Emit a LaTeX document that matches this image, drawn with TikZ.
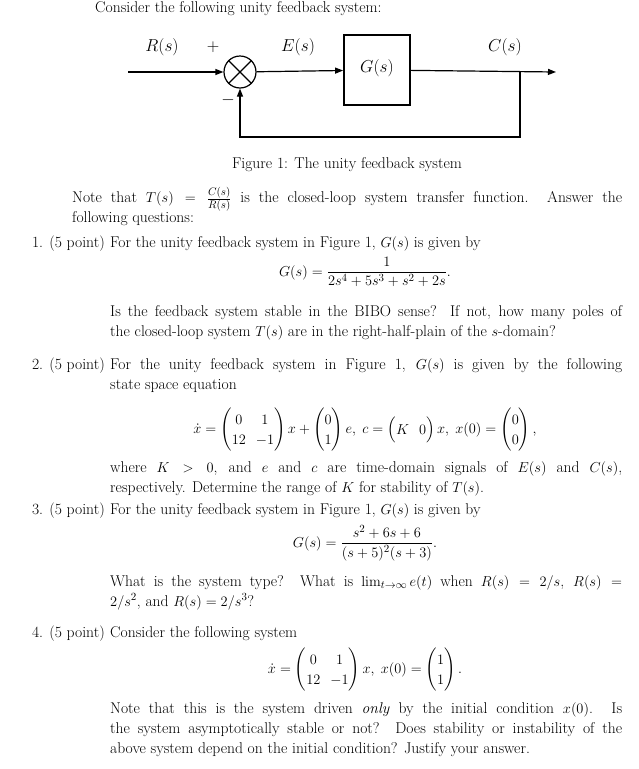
\documentclass[tikz,border=0pt]{standalone}
\usepackage{amsmath}
\usetikzlibrary{arrows.meta}
\begin{document}
\begin{tikzpicture}[x=1pt,y=-1pt,
  txt/.style={anchor=north west,inner sep=0pt,align=justify,font=\fontsize{15.6}{20}\selectfont},
  eq/.style={inner sep=0pt,font=\fontsize{15.6}{20}\selectfont},
  lbl/.style={inner sep=0pt,font=\fontsize{19}{22}\selectfont},
  sig/.style={line width=1.2pt},
  arr/.style={sig,-{Triangle[length=8pt,width=6pt]}}]
\useasboundingbox (0,0) rectangle (638,769);
% diagram
\node[txt] (t0) at (95,1) {Consider the following unity feedback system:};
\node[draw,circle,line width=1.2pt,minimum size=32pt,inner sep=0pt] (sum) at (240,72) {};
\draw[line width=1.2pt] (sum.north west)--(sum.south east) (sum.north east)--(sum.south west);
\node[draw,line width=1.8pt,minimum width=66pt,minimum height=70pt] (G) at (377,70) {};
\node[lbl] (Gl) at (377,68) {$G(s)$};
\coordinate (in) at (128,72);
\coordinate (out) at (556,72);
\coordinate (br) at (520,72);
\coordinate (fb) at (520,137);
\coordinate (fb2) at (240,137);
\draw[arr] (in) -- (sum);
\draw[arr] (sum) -- (G);
\draw[arr] (G) -- (out);
\draw[arr] (br) -- (fb) -- (fb2) -- (sum);
\node[lbl] (R) at (162,47) {$R(s)$};
\node[lbl] (pl) at (213,47) {$+$};
\node[lbl] (mi) at (228,100) {$-$};
\node[lbl] (E) at (298,47) {$E(s)$};
\node[lbl] (C) at (505,47) {$C(s)$};
\node[txt,anchor=north] (cap) at (347,157) {Figure 1: The unity feedback system};
% text
\node[txt,text width=550pt] (p0) at (72,187) {Note that $T(s)=\frac{C(s)}{R(s)}$ is the closed-loop system transfer function. Answer the\linebreak following questions:};
\node[txt,anchor=north east] (n1) at (105,236) {1. (5 point)};
\node[txt,text width=512pt] (p1) at (110,236) {For the unity feedback system in Figure 1, $G(s)$ is given by};
\node[eq] (e1) at (365,272) {$G(s)=\dfrac{1}{2s^4+5s^3+s^2+2s}.$};
\node[txt,text width=512pt] (p1b) at (110,305) {Is the feedback system stable in the BIBO sense? If not, how many poles of\linebreak the closed-loop system $T(s)$ are in the right-half-plain of the $s$-domain?};
\node[txt,anchor=north east] (n2) at (105,358) {2. (5 point)};
\node[txt,text width=512pt] (p2) at (110,358) {For the unity feedback system in Figure 1, $G(s)$ is given by the following\linebreak state space equation};
\node[eq] (e2) at (365,430) {$\dot x=\begin{pmatrix}0&1\\12&-1\end{pmatrix}x+\begin{pmatrix}0\\1\end{pmatrix}e,\;c=\begin{pmatrix}K&0\end{pmatrix}x,\;x(0)=\begin{pmatrix}0\\0\end{pmatrix},$};
\node[txt,text width=512pt] (p2b) at (110,461) {where $K>0$, and $e$ and $c$ are time-domain signals of $E(s)$ and $C(s)$,\linebreak respectively. Determine the range of $K$ for stability of $T(s)$.};
\node[txt,anchor=north east] (n3) at (105,503) {3. (5 point)};
\node[txt,text width=512pt] (p3) at (110,503) {For the unity feedback system in Figure 1, $G(s)$ is given by};
\node[eq] (e3) at (365,543) {$G(s)=\dfrac{s^2+6s+6}{(s+5)^2(s+3)}.$};
\node[txt,text width=512pt] (p3b) at (110,575) {What is the system type? What is $\lim_{t\to\infty}e(t)$ when $R(s)=2/s$, $R(s)=$\linebreak $2/s^2$, and $R(s)=2/s^3$?};
\node[txt,anchor=north east] (n4) at (105,626) {4. (5 point)};
\node[txt,text width=512pt] (p4) at (110,626) {Consider the following system};
\node[eq] (e4) at (365,670) {$\dot x=\begin{pmatrix}0&1\\12&-1\end{pmatrix}x,\;x(0)=\begin{pmatrix}1\\1\end{pmatrix}.$};
\node[txt,text width=512pt] (p4b) at (110,702) {Note that this is the system driven \emph{only} by the initial condition $x(0)$. Is\linebreak the system asymptotically stable or not? Does stability or instability of the\linebreak above system depend on the initial condition? Justify your answer.};
\end{tikzpicture}
\end{document}
